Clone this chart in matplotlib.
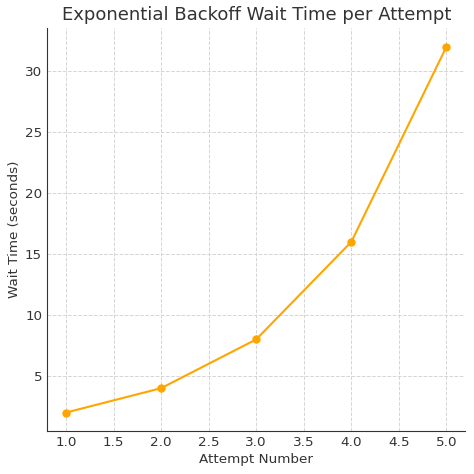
import matplotlib
matplotlib.use("Agg")
from matplotlib import pyplot as plt

attempts = [1, 2, 3, 4, 5]
wait_times = [2, 4, 8, 16, 32]

plt.rcParams['text.color'] = '#333333'
plt.rcParams['axes.labelcolor'] = '#333333'
plt.rcParams['xtick.color'] = '#333333'
plt.rcParams['ytick.color'] = '#333333'

fig, ax = plt.subplots(figsize=(4.74, 4.74), dpi=100)
ax.plot(attempts, wait_times, marker='o', color='orange', markersize=5, linewidth=1.5)

ax.set_title('Exponential Backoff Wait Time per Attempt', fontsize=13)
ax.set_xlabel('Attempt Number', fontsize=9.7, labelpad=3)
ax.set_ylabel('Wait Time (seconds)', fontsize=9.7, labelpad=3)
# no tick marks in the reference, just labels
ax.tick_params(labelsize=9.7, length=0, pad=3.5)
ax.grid(True, linestyle='--', color='#d5d5d5', linewidth=0.7)

# only left and bottom spines
ax.spines['top'].set_visible(False)
ax.spines['right'].set_visible(False)
ax.spines['left'].set_color('#333333')
ax.spines['bottom'].set_color('#333333')

fig.subplots_adjust(left=0.099, right=0.982, top=0.94, bottom=0.091)
plt.savefig('out.png', dpi=100)
